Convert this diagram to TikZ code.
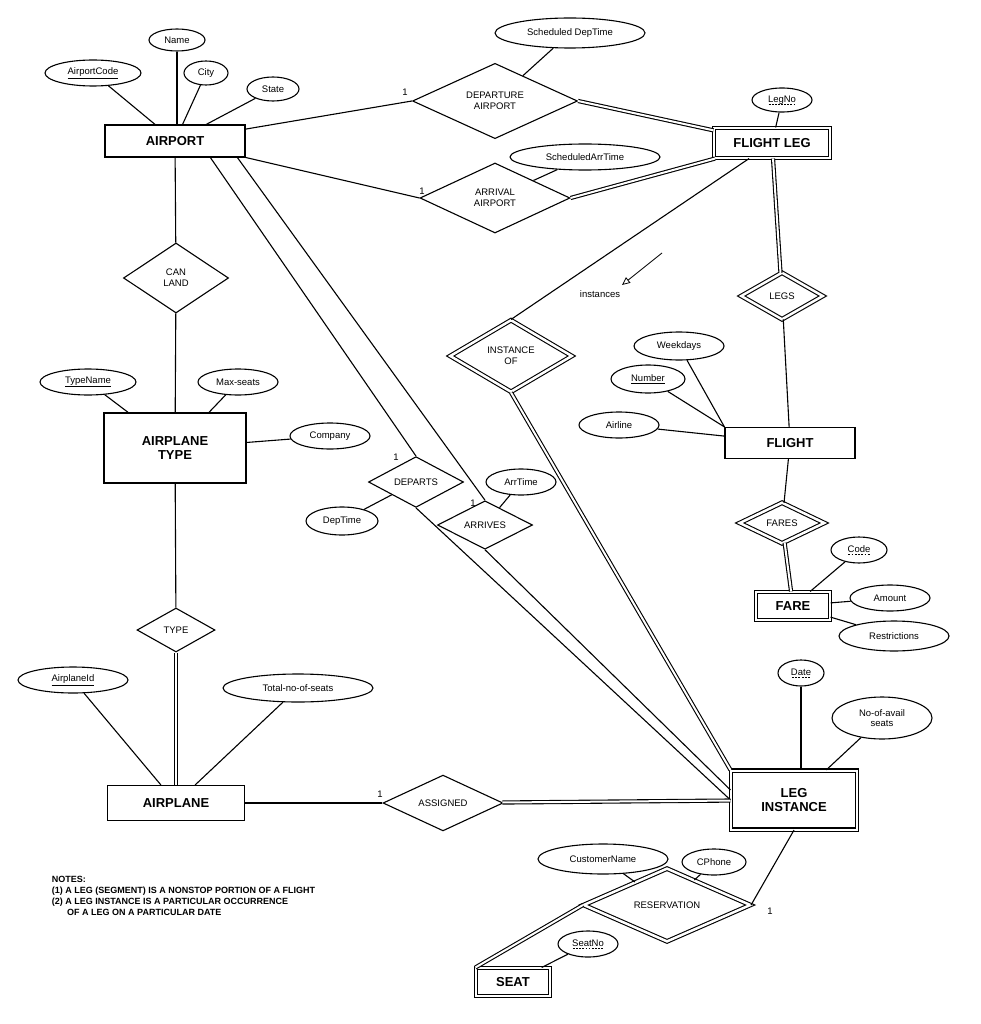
\documentclass[tikz,border=0pt]{standalone}
\usepackage{fontspec}
\setmainfont{Liberation Sans}
\usetikzlibrary{shapes.geometric,arrows.meta}
\newcommand\mydul[1]{\setbox0\hbox{#1}\rlap{\raisebox{-2.5pt}{\hbox to\wd0{\xleaders\hbox to 3pt{\hss\rule{1.8pt}{0.6pt}\hss}\hfill}}}\box0}
\begin{document}
\begin{tikzpicture}[x=1pt,y=-1pt,line width=1.1pt,
 ent/.style={draw,rectangle,minimum width=#1,font=\fontsize{13}{14}\selectfont\bfseries,align=center,inner sep=1pt},
 went/.style={ent=#1,double,double distance=2pt},
 att/.style={draw,ellipse,inner sep=1pt,font=\fontsize{9.5}{10}\selectfont},
 rel/.style={draw,diamond,inner sep=0pt,font=\fontsize{9.5}{11}\selectfont,align=center},
 wrel/.style={rel,double,double distance=2.5pt},
 dbl/.style={double,double distance=2pt},
 one/.style={font=\fontsize{9.5}{10}\selectfont}]
\useasboundingbox (0,0) rectangle (980,1024);
% entities
\node[ent=140pt,minimum height=32pt] (airport) at (175,141) {AIRPORT};
\node[went=116pt,minimum height=30pt] (fleg) at (772,143) {FLIGHT LEG};
\node[ent=130pt,minimum height=31pt] (flight) at (790,443) {FLIGHT};
\node[ent=142pt,minimum height=70pt] (atype) at (175,448) {AIRPLANE\\TYPE};
\node[went=74pt,minimum height=28pt] (fare) at (793,606) {FARE};
\node[ent=137pt,minimum height=35pt] (airplane) at (176,803) {AIRPLANE};
\node[went=126pt,minimum height=59pt] (li) at (794,800) {LEG\\INSTANCE};
\node[went=74pt,minimum height=28pt] (seat) at (513,982) {SEAT};
% attributes
\node[att,minimum width=56pt,minimum height=22pt] (name) at (177,40) {Name};
\node[att,minimum width=96pt,minimum height=26pt] (acode) at (93,73) {\underline{AirportCode}};
\node[att,minimum width=44pt,minimum height=24pt] (city) at (206,73) {City};
\node[att,minimum width=52pt,minimum height=24pt] (state) at (273,89) {State};
\node[att,minimum width=150pt,minimum height=30pt] (sdt) at (570,33) {Scheduled DepTime};
\node[att,minimum width=60pt,minimum height=24pt] (legno) at (782,100) {\mydul{LegNo}};
\node[att,minimum width=150pt,minimum height=26pt] (sat) at (585,157) {ScheduledArrTime};
\node[att,minimum width=90pt,minimum height=28pt] (wd) at (679,346) {Weekdays};
\node[att,minimum width=74pt,minimum height=28pt] (num) at (648,379) {\underline{Number}};
\node[att,minimum width=80pt,minimum height=26pt] (airline) at (619,425) {Airline};
\node[att,minimum width=96pt,minimum height=26pt] (tname) at (88,382) {\underline{TypeName}};
\node[att,minimum width=80pt,minimum height=26pt] (maxs) at (238,382) {Max-seats};
\node[att,minimum width=80pt,minimum height=26pt] (comp) at (330,436) {Company};
\node[att,minimum width=72pt,minimum height=28pt] (dept) at (342,521) {DepTime};
\node[att,minimum width=70pt,minimum height=26pt] (arrt) at (521,482) {ArrTime};
\node[att,minimum width=56pt,minimum height=26pt] (code) at (859,550) {\mydul{Code}};
\node[att,minimum width=80pt,minimum height=26pt] (amount) at (890,598) {Amount};
\node[att,minimum width=110pt,minimum height=30pt] (restr) at (894,636) {Restrictions};
\node[att,minimum width=110pt,minimum height=26pt] (apid) at (73,680) {\underline{AirplaneId}};
\node[att,minimum width=150pt,minimum height=28pt] (tnos) at (298,688) {Total-no-of-seats};
\node[att,minimum width=46pt,minimum height=26pt] (date) at (801,673) {\mydul{Date}};
\node[att,minimum width=100pt,minimum height=42pt,align=center] (noas) at (882,718) {No-of-avail\\seats};
\node[att,minimum width=130pt,minimum height=30pt] (cname) at (603,859) {CustomerName};
\node[att,minimum width=64pt,minimum height=26pt] (cphone) at (714,862) {CPhone};
\node[att,minimum width=60pt,minimum height=26pt] (seatno) at (588,944) {\mydul{SeatNo}};
% relationships
\node[rel,minimum width=165pt,minimum height=70pt] (dep) at (495,101) {DEPARTURE\\AIRPORT};
\node[rel,minimum width=150pt,minimum height=70pt] (arr) at (495,198) {ARRIVAL\\AIRPORT};
\node[rel,minimum width=105pt,minimum height=70pt] (canland) at (176,278) {CAN\\LAND};
\node[wrel,minimum width=82pt,minimum height=47pt] (legs) at (782,296) {LEGS};
\node[wrel,minimum width=122pt,minimum height=72pt] (instof) at (511,356) {INSTANCE\\OF};
\node[rel,minimum width=95pt,minimum height=44pt] (departs) at (416,482) {DEPARTS};
\node[rel,minimum width=95pt,minimum height=44pt] (arrives) at (485,525) {ARRIVES};
\node[wrel,minimum width=85pt,minimum height=41pt] (fares) at (782,523) {FARES};
\node[rel,minimum width=78pt,minimum height=44pt] (type) at (176,630) {TYPE};
\node[rel,minimum width=120pt,minimum height=50pt] (assigned) at (443,803) {ASSIGNED};
\node[wrel,minimum width=167pt,minimum height=45pt] (resv) at (667,905) {RESERVATION};
% attribute links
\draw (name) -- (airport.north -| name.south);
\draw (acode) -- (airport);
\draw (city) -- (airport);
\draw (state) -- (airport);
\draw (sdt) -- (dep);
\draw (legno) -- (fleg);
\draw (sat) -- (arr);
\draw (wd) -- (flight.north west);
\draw (num) -- (flight.north west);
\draw (airline) -- (flight);
\draw (tname) -- (atype);
\draw (maxs) -- (atype);
\draw (comp) -- (atype);
\draw (dept) -- (departs);
\draw (arrt) -- (arrives);
\draw (code) -- (fare);
\draw (amount) -- (fare);
\draw (restr) -- (fare);
\draw (apid) -- (airplane);
\draw (tnos) -- (airplane);
\draw (date) -- (li.north -| date.south);
\draw (noas) -- (li);
\draw (cname) -- (resv);
\draw (cphone) -- (resv);
\draw (seatno) -- (seat);
% relationship links
\draw (airport) -- (dep.west); \draw[dbl] (dep.east) -- (fleg);
\draw (airport) -- (arr.west); \draw[dbl] (arr.east) -- (fleg);
\draw (airport) -- (canland) -- (atype);
\draw[dbl] (fleg) -- (legs); \draw (legs) -- (flight);
\draw (fleg) -- (instof.north); \draw[dbl] (instof.south) -- (li.north west);
\draw (flight) -- (fares); \draw[dbl] (fares) -- (fare);
\draw (atype) -- (type); \draw[dbl] (type) -- (airplane);
\coordinate (ap1) at (210,157); \coordinate (ap2) at (237,157);
\draw (ap1) -- (departs.north); \draw (departs.south) -- ([yshift=-30pt]li.north west);
\draw (ap2) -- (arrives.north); \draw (arrives.south) -- ([yshift=-20pt]li.north west);
\draw (airplane) -- (assigned); \draw[dbl] (assigned) -- (li);
\draw (li.south) -- (resv.east); \draw[dbl] (resv.west) -- (seat.north west);
% cardinalities
\node[one] at (405,92) {1};
\node[one] at (422,191) {1};
\node[one] at (396,457) {1};
\node[one] at (473,503) {1};
\node[one] at (380,794) {1};
\node[one] at (770,911) {1};
% instances arrow
\coordinate (ia) at (662,253); \coordinate (ib) at (622,285);
\draw[-{Triangle[open,length=8pt,width=7pt]},line width=0.8pt] (ia) -- (ib);
\node[font=\fontsize{9.5}{10}\selectfont] (inst) at (600,294) {instances};
% notes
\node[anchor=north west,align=left,font=\fontsize{9}{11}\selectfont\bfseries] (notes) at (48,872)
 {NOTES:\\(1) A LEG (SEGMENT) IS A NONSTOP PORTION OF A FLIGHT\\(2) A LEG INSTANCE IS A PARTICULAR OCCURRENCE\\\hspace*{1.7em}OF A LEG ON A PARTICULAR DATE};
\end{tikzpicture}
\end{document}
